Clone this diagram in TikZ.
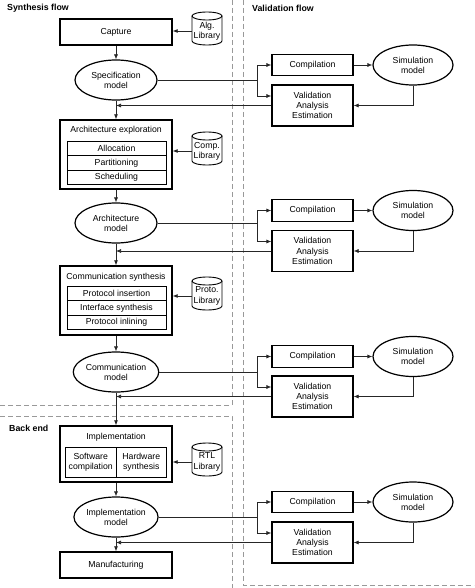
\documentclass[tikz,border=0pt]{standalone}
\usepackage{fontspec}
\setmainfont{Liberation Sans}
\usetikzlibrary{arrows.meta,shapes.geometric,calc}
\begin{document}
\begin{tikzpicture}[x=1pt,y=-1pt,
  font=\fontsize{8.7}{10.2}\selectfont,
  box/.style={draw, fill=white, line width=1.4pt, minimum width=112pt, inner sep=0pt, align=center},
  vbox/.style={draw, fill=white, line width=1.2pt, minimum width=81pt, minimum height=21.5pt, inner sep=0pt, align=center},
  row/.style={draw, line width=0.6pt, minimum width=99pt, minimum height=14.5pt, inner sep=0pt},
  cell/.style={draw, line width=0.6pt, minimum width=50.5pt, minimum height=30pt, inner sep=0pt, align=center},
  model/.style={draw, fill=white, ellipse, line width=1.2pt, minimum width=82pt, minimum height=40pt, inner sep=0pt, align=center},
  sim/.style={draw, fill=white, ellipse, line width=1.2pt, minimum width=80pt, minimum height=40pt, inner sep=0pt, align=center},
  lib/.style={inner sep=0pt, minimum width=30pt, minimum height=20pt, align=center},
  libline/.style={line width=0.9pt},
  conn/.style={draw=black!85, line width=0.7pt},
  arr/.style={conn, -{Latex[length=5pt,width=4pt]}},
  region/.style={draw=black!40, line width=0.7pt, dash pattern=on 5pt off 3pt},
  heading/.style={font=\fontsize{8.8}{10}\selectfont\bfseries, anchor=west, inner sep=0pt}
]
\useasboundingbox (0,0) rectangle (474,588);

% regions
\draw[region] (232,0) -- (232,405) -- (0,405);
\draw[region] (0,416) -- (232,416) -- (232,588);
\draw[region] (243,0) -- (243,585) -- (474,585);

\node[heading] (hsyn) at (7,8) {Synthesis flow};
\node[heading] (hval) at (252,8) {Validation flow};
\node[heading] (hback) at (9,428) {Back end};

% left column
\node[box, minimum height=26pt] (capture) at (116,32) {Capture};
\node[model] (spec) at (116,80) {Specification\\model};

\node[box, minimum height=69pt] (arch) at (116,154.5) {};
\node (archt) at (116,130) {Architecture exploration};
\node[row] (alloc) at (116.5,148.5) {Allocation};
\node[row] (part) at (116.5,163) {Partitioning};
\node[row] (sched) at (116.5,177.5) {Scheduling};

\node[model] (archm) at (116,223) {Architecture\\model};

\node[box, minimum height=69pt] (comm) at (116,300.5) {};
\node (commt) at (116,277) {Communication synthesis};
\node[row] (pins) at (116.5,293.5) {Protocol insertion};
\node[row] (isyn) at (116.5,308) {Interface synthesis};
\node[row] (pinl) at (116.5,322.5) {Protocol inlining};

\node[model] (commm) at (116,372) {Communication\\model};

\node[box, minimum height=56pt] (impl) at (116,454) {};
\node (implt) at (116,437) {Implementation};
\node[cell] (swc) at (90.75,462) {Software\\compilation};
\node[cell] (hws) at (141.25,462) {Hardware\\synthesis};

\node[model] (implm) at (116,517) {Implementation\\model};
\node[box, minimum height=26pt] (manuf) at (116,565) {Manufacturing};

% libraries
\node[lib] (alg) at (207,31) {Alg.\\Library};
\node[lib] (complib) at (207,151) {Comp.\\Library};
\node[lib] (proto) at (207,296) {Proto.\\Library};
\node[lib] (rtl) at (207,462) {RTL\\Library};
\foreach \n in {alg,complib,proto,rtl} {
  \draw[libline] ([xshift=-15pt,yshift=15pt]\n.center) -- ([xshift=-15pt,yshift=-10pt]\n.center)
     arc[start angle=180,end angle=360,x radius=15pt,y radius=4pt]
     -- ([xshift=15pt,yshift=15pt]\n.center);
  \draw[libline] ([yshift=15pt]\n.center) ellipse [x radius=15pt, y radius=4pt];
}
\draw[arr] (alg.west) -- (alg.west -| capture.east);
\draw[arr] (complib.west) -- (complib.west -| arch.east);
\draw[arr] (proto.west) -- (proto.west -| comm.east);
\draw[arr] (rtl.west) -- (rtl.west -| impl.east);

% main flow
\draw[arr] (capture) -- (spec);
\draw[arr] (spec) -- (arch);
\draw[arr] (arch) -- (archm);
\draw[arr] (archm) -- (comm);
\draw[arr] (comm) -- (commm);
\draw[arr] (commm) -- (impl);
\draw[arr] (impl) -- (implm);
\draw[arr] (implm) -- (manuf);

% validation groups
\foreach \i/\m/\ye/\yc/\yv in {1/spec/80/65/105.5, 2/archm/223/210.5/251, 3/commm/372/356.5/396.5, 4/implm/517/502/542.5} {
  \node[vbox] (comp\i) at (312.5,\yc) {Compilation};
  \node[vbox, minimum height=41pt] (val\i) at (312.5,\yv) {Validation\\Analysis\\Estimation};
  \node[sim] (sim\i) at (413,\yc) {Simulation\\model};
  \coordinate (br\i) at (257,\ye);
  \coordinate (vin\i) at ([yshift=9.5pt]val\i.west);
  \draw[conn] (\m.east) -- (br\i);
  \draw[arr] (br\i) |- (comp\i.west);
  \draw[arr] (br\i) |- (vin\i);
  \draw[arr] (comp\i) -- (sim\i);
  \draw[arr] (sim\i.south) |- (val\i.east);
  \draw[arr] (val\i.west) -- (val\i.west -| \m.south);
}
\end{tikzpicture}
\end{document}
